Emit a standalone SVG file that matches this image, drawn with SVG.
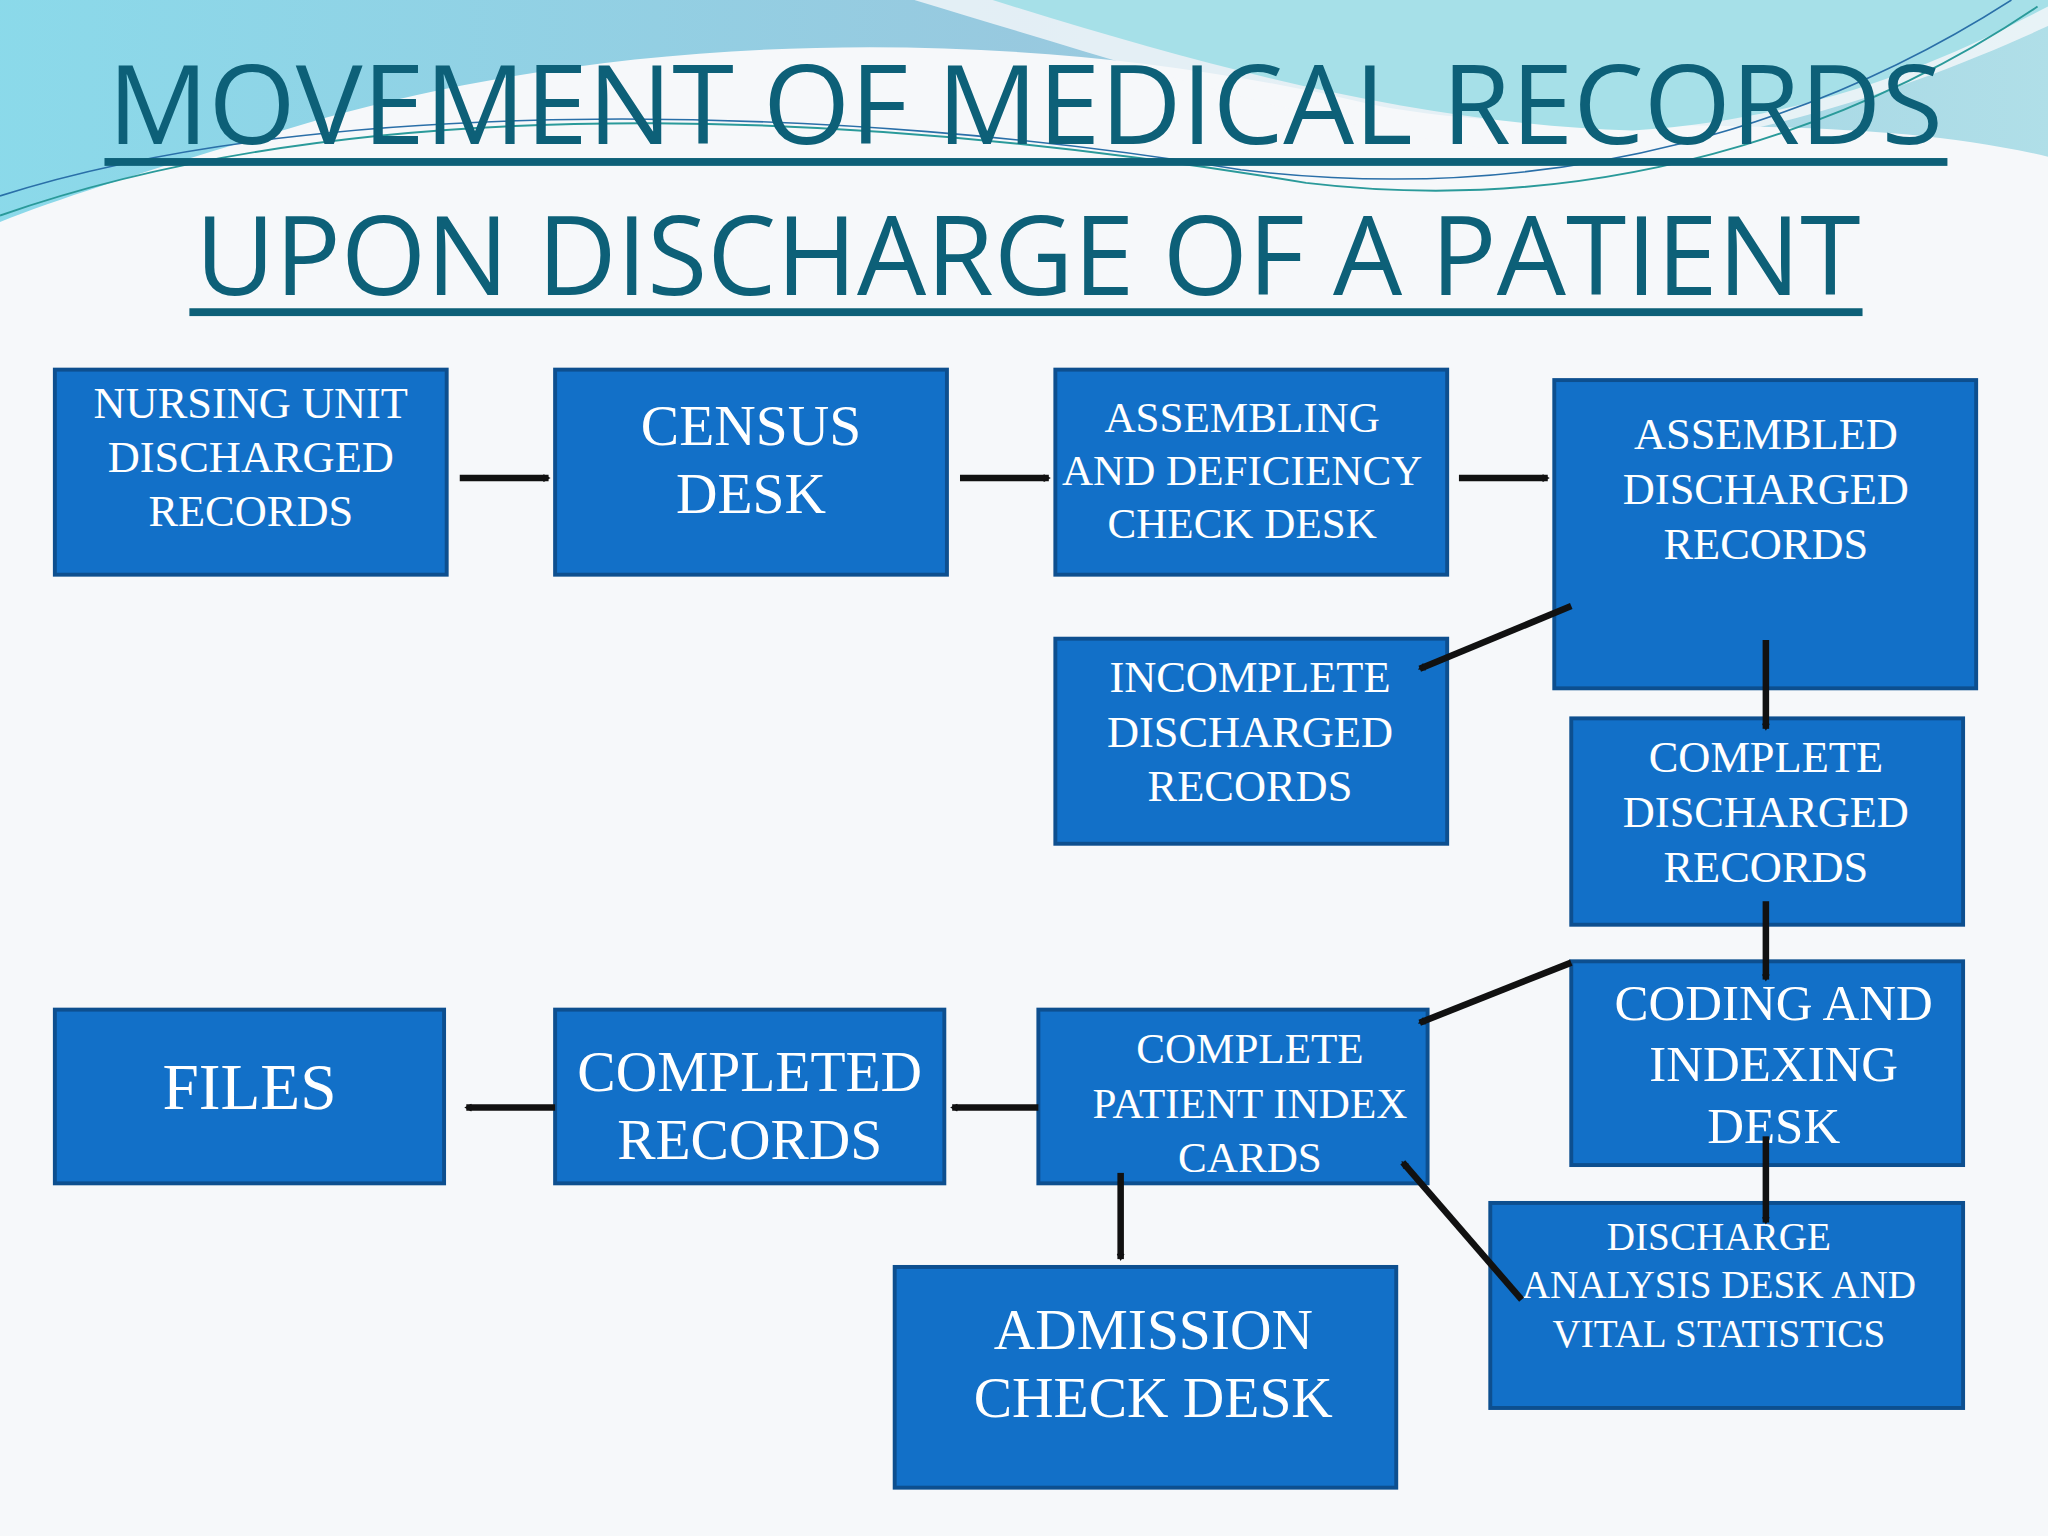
<svg xmlns="http://www.w3.org/2000/svg" width="2048" height="1536" viewBox="0 0 2048 1536">
<defs>
<style>
.box{fill:#1270c8;stroke:#0d4f8f;stroke-width:3}
.t{font-family:"Liberation Serif","Times New Roman",serif;fill:#fff;text-anchor:middle}
.ttl{font-family:"Open Sans","DejaVu Sans",sans-serif;fill:#0d6078}
.ar{stroke:#111;stroke-width:5;fill:none;marker-end:url(#ah)}
</style>
<marker id="ah" viewBox="0 0 10 10" refX="8" refY="5" markerWidth="5" markerHeight="5" orient="auto" markerUnits="userSpaceOnUse" overflow="visible">
<path d="M0,0 L9,5 L0,10" fill="none" stroke="#111" stroke-width="2"/>
</marker>
<linearGradient id="g1" x1="0" y1="0" x2="1" y2="0"><stop offset="0" stop-color="#7fd6e8"/><stop offset="0.5" stop-color="#8dc4dc"/><stop offset="1" stop-color="#a8dce6"/></linearGradient>
</defs>
<rect width="2048" height="1536" fill="#f6f8fa"/>
<g transform="scale(1.30612)">
<path d="M0,0 H1568 V120 C1400,80 1200,110 1050,80 C800,20 500,20 250,90 C130,125 50,150 0,170 Z" fill="url(#g1)" opacity="0.9"/>
<path d="M700,0 C900,60 1050,110 1200,120 C1350,110 1480,60 1568,20 V0 Z" fill="#f6f8fa" opacity="0.8"/>
<path d="M760,0 C950,60 1100,95 1250,100 C1400,90 1500,40 1568,5 V0 Z" fill="#a6e0e8"/>
<path d="M0,165 C300,60 700,90 1000,140 C1250,170 1450,80 1560,5" stroke="#2a9a9a" stroke-width="1.5" fill="none"/>
<path d="M0,150 C250,70 650,80 950,130 C1200,160 1400,90 1540,0" stroke="#2a6fa8" stroke-width="1.2" fill="none"/>
<text class="ttl" x="785" y="110" font-size="84" text-anchor="middle" textLength="1405" lengthAdjust="spacingAndGlyphs">MOVEMENT OF MEDICAL RECORDS</text>
<rect x="80" y="121" width="1411" height="6" fill="#0d6078"/>
<text class="ttl" x="787" y="226" font-size="84" text-anchor="middle" textLength="1275" lengthAdjust="spacingAndGlyphs">UPON DISCHARGE OF A PATIENT</text>
<rect x="145" y="236" width="1281" height="6" fill="#0d6078"/>

<g id="n1"><rect class="box" x="42" y="283" width="300" height="157"/><text class="t" font-size="34"><tspan x="192" y="320">NURSING UNIT</tspan><tspan x="192" y="361">DISCHARGED</tspan><tspan x="192" y="403">RECORDS</tspan></text></g>
<g id="n2"><rect class="box" x="425" y="283" width="300" height="157"/><text class="t" font-size="44"><tspan x="575" y="341">CENSUS</tspan><tspan x="575" y="393">DESK</tspan></text></g>
<g id="n3"><rect class="box" x="808" y="283" width="300" height="157"/><text class="t" font-size="33"><tspan x="951" y="331">ASSEMBLING</tspan><tspan x="951" y="371">AND DEFICIENCY</tspan><tspan x="951" y="412">CHECK DESK</tspan></text></g>
<g id="n4"><rect class="box" x="1190" y="291" width="323" height="236"/><text class="t" font-size="34"><tspan x="1352" y="344">ASSEMBLED</tspan><tspan x="1352" y="386">DISCHARGED</tspan><tspan x="1352" y="428">RECORDS</tspan></text></g>
<g id="n5"><rect class="box" x="808" y="489" width="300" height="157"/><text class="t" font-size="34"><tspan x="957" y="530">INCOMPLETE</tspan><tspan x="957" y="572">DISCHARGED</tspan><tspan x="957" y="613">RECORDS</tspan></text></g>
<g id="n6"><rect class="box" x="1203" y="550" width="300" height="158"/><text class="t" font-size="34"><tspan x="1352" y="591">COMPLETE</tspan><tspan x="1352" y="633">DISCHARGED</tspan><tspan x="1352" y="675">RECORDS</tspan></text></g>
<g id="n7"><rect class="box" x="1203" y="736" width="300" height="156"/><text class="t" font-size="39"><tspan x="1358" y="781">CODING AND</tspan><tspan x="1358" y="828">INDEXING</tspan><tspan x="1358" y="875">DESK</tspan></text></g>
<g id="n8"><rect class="box" x="795" y="773" width="298" height="133"/><text class="t" font-size="33"><tspan x="957" y="814">COMPLETE</tspan><tspan x="957" y="856">PATIENT INDEX</tspan><tspan x="957" y="897">CARDS</tspan></text></g>
<g id="n9"><rect class="box" x="425" y="773" width="298" height="133"/><text class="t" font-size="44"><tspan x="574" y="835">COMPLETED</tspan><tspan x="574" y="887">RECORDS</tspan></text></g>
<g id="n10"><rect class="box" x="42" y="773" width="298" height="133"/><text class="t" font-size="50"><tspan x="191" y="849">FILES</tspan></text></g>
<g id="n11"><rect class="box" x="685" y="970" width="384" height="169"/><text class="t" font-size="44"><tspan x="883" y="1033">ADMISSION</tspan><tspan x="883" y="1085">CHECK DESK</tspan></text></g>
<g id="n12"><rect class="box" x="1141" y="921" width="362" height="157"/><text class="t" font-size="30"><tspan x="1316" y="957">DISCHARGE</tspan><tspan x="1316" y="994">ANALYSIS DESK AND</tspan><tspan x="1316" y="1031">VITAL STATISTICS</tspan></text></g>

<g id="connectors">
<path class="ar" d="M352,366 H420"/>
<path class="ar" d="M735,366 H803"/>
<path class="ar" d="M1117,366 H1185"/>
<path class="ar" d="M1203,464 L1087,512"/>
<path class="ar" d="M1352,490 V558"/>
<path class="ar" d="M1352,690 V750"/>
<path class="ar" d="M1203,737 L1087,783"/>
<path class="ar" d="M795,848 H729"/>
<path class="ar" d="M425,848 H357"/>
<path class="ar" d="M858,898 V964"/>
<path class="ar" d="M1352,870 V936"/>
<path class="ar" d="M1165,995 L1074,890"/>
</g>
</g>
</svg>
